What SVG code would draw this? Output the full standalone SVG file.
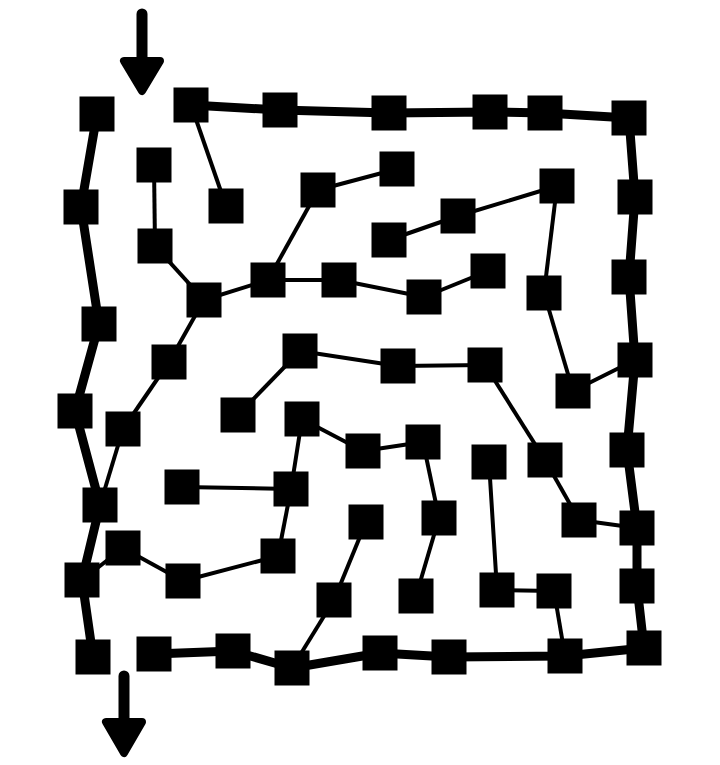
<svg xmlns="http://www.w3.org/2000/svg" width="720" height="765" viewBox="0 0 720 765">
<style>
.n{fill:#000}
.thick{stroke:#000;stroke-width:9;fill:none;stroke-linejoin:round}
.thin{stroke:#000;stroke-width:4;fill:none}
.arr{stroke:#000;stroke-width:11;stroke-linecap:round;fill:none}
.head{fill:#000;stroke:#000;stroke-width:8;stroke-linejoin:round}
</style>
<defs>
<rect id="sq" x="-17.5" y="-17.5" width="35" height="35"/>
</defs>
<g id="connectors">
<polyline class="thick" points="97,114 81,207 99,324 75,411 100,505 82,580 93,657"/>
<polyline class="thick" points="154,654 233,651 292,668 380,653 449,657 565,656 644,648"/>
<polyline class="thick" points="191,105 280,110 389,113 490,112 545,113 629,118 635,197 629,277 635,360 627,450 637,528 637,586 644,648"/>
<line class="thin" x1="154" y1="165" x2="155" y2="246"/>
<line class="thin" x1="191" y1="105" x2="226" y2="206"/>
<line class="thin" x1="318" y1="190" x2="397" y2="169"/>
<line class="thin" x1="318" y1="190" x2="268" y2="280"/>
<line class="thin" x1="389" y1="240" x2="458" y2="216"/>
<line class="thin" x1="458" y1="216" x2="557" y2="186"/>
<line class="thin" x1="557" y1="186" x2="544" y2="293"/>
<line class="thin" x1="544" y1="293" x2="573" y2="391"/>
<line class="thin" x1="573" y1="391" x2="635" y2="360"/>
<line class="thin" x1="155" y1="246" x2="204" y2="300"/>
<line class="thin" x1="204" y1="300" x2="268" y2="280"/>
<line class="thin" x1="268" y1="280" x2="339" y2="280"/>
<line class="thin" x1="339" y1="280" x2="424" y2="297"/>
<line class="thin" x1="424" y1="297" x2="488" y2="271"/>
<line class="thin" x1="204" y1="300" x2="169" y2="362"/>
<line class="thin" x1="169" y1="362" x2="123" y2="429"/>
<line class="thin" x1="123" y1="429" x2="100" y2="505"/>
<line class="thin" x1="300" y1="351" x2="238" y2="415"/>
<line class="thin" x1="300" y1="351" x2="398" y2="366"/>
<line class="thin" x1="398" y1="366" x2="485" y2="365"/>
<line class="thin" x1="485" y1="365" x2="545" y2="460"/>
<line class="thin" x1="545" y1="460" x2="579" y2="520"/>
<line class="thin" x1="579" y1="520" x2="637" y2="528"/>
<line class="thin" x1="302" y1="419" x2="363" y2="451"/>
<line class="thin" x1="363" y1="451" x2="423" y2="442"/>
<line class="thin" x1="423" y1="442" x2="439" y2="518"/>
<line class="thin" x1="439" y1="518" x2="416" y2="596"/>
<line class="thin" x1="302" y1="419" x2="291" y2="489"/>
<line class="thin" x1="182" y1="487" x2="291" y2="489"/>
<line class="thin" x1="291" y1="489" x2="278" y2="556"/>
<line class="thin" x1="278" y1="556" x2="183" y2="581"/>
<line class="thin" x1="183" y1="581" x2="123" y2="548"/>
<line class="thin" x1="123" y1="548" x2="82" y2="580"/>
<line class="thin" x1="489" y1="462" x2="497" y2="590"/>
<line class="thin" x1="497" y1="590" x2="554" y2="591"/>
<line class="thin" x1="554" y1="591" x2="565" y2="656"/>
<line class="thin" x1="366" y1="522" x2="334" y2="600"/>
<line class="thin" x1="334" y1="600" x2="292" y2="668"/>
</g>
<g id="arrow-in">
<line class="arr" x1="142" y1="14" x2="142" y2="62"/>
<polygon class="head" points="124,61 160,61 142,91"/>
</g>
<g id="arrow-out">
<line class="arr" x1="124" y1="676" x2="124" y2="724"/>
<polygon class="head" points="106,722 142,722 124,753"/>
</g>
<g id="n-a1"><use href="#sq" x="97" y="114"/></g>
<g id="n-l1"><use href="#sq" x="81" y="207"/></g>
<g id="n-l2"><use href="#sq" x="99" y="324"/></g>
<g id="n-l3"><use href="#sq" x="75" y="411"/></g>
<g id="n-l4"><use href="#sq" x="100" y="505"/></g>
<g id="n-l5"><use href="#sq" x="82" y="580"/></g>
<g id="n-l6"><use href="#sq" x="93" y="657"/></g>
<g id="n-t1"><use href="#sq" x="191" y="105"/></g>
<g id="n-t2"><use href="#sq" x="280" y="110"/></g>
<g id="n-t3"><use href="#sq" x="389" y="113"/></g>
<g id="n-t4"><use href="#sq" x="490" y="112"/></g>
<g id="n-t5"><use href="#sq" x="545" y="113"/></g>
<g id="n-t6"><use href="#sq" x="629" y="118"/></g>
<g id="n-r1"><use href="#sq" x="635" y="197"/></g>
<g id="n-r2"><use href="#sq" x="629" y="277"/></g>
<g id="n-r3"><use href="#sq" x="635" y="360"/></g>
<g id="n-r4"><use href="#sq" x="627" y="450"/></g>
<g id="n-r5"><use href="#sq" x="637" y="528"/></g>
<g id="n-r6"><use href="#sq" x="637" y="586"/></g>
<g id="n-r7"><use href="#sq" x="644" y="648"/></g>
<g id="n-b1"><use href="#sq" x="154" y="654"/></g>
<g id="n-b2"><use href="#sq" x="233" y="651"/></g>
<g id="n-b3"><use href="#sq" x="292" y="668"/></g>
<g id="n-b4"><use href="#sq" x="380" y="653"/></g>
<g id="n-b5"><use href="#sq" x="449" y="657"/></g>
<g id="n-b6"><use href="#sq" x="565" y="656"/></g>
<g id="n-1"><use href="#sq" x="154" y="165"/></g>
<g id="n-2"><use href="#sq" x="155" y="246"/></g>
<g id="n-3"><use href="#sq" x="226" y="206"/></g>
<g id="n-4"><use href="#sq" x="318" y="190"/></g>
<g id="n-5"><use href="#sq" x="397" y="169"/></g>
<g id="n-6"><use href="#sq" x="557" y="186"/></g>
<g id="n-7"><use href="#sq" x="458" y="216"/></g>
<g id="n-8"><use href="#sq" x="389" y="240"/></g>
<g id="n-9"><use href="#sq" x="488" y="271"/></g>
<g id="n-10"><use href="#sq" x="424" y="297"/></g>
<g id="n-11"><use href="#sq" x="544" y="293"/></g>
<g id="n-12"><use href="#sq" x="204" y="300"/></g>
<g id="n-13"><use href="#sq" x="268" y="280"/></g>
<g id="n-14"><use href="#sq" x="339" y="280"/></g>
<g id="n-15"><use href="#sq" x="169" y="362"/></g>
<g id="n-16"><use href="#sq" x="123" y="429"/></g>
<g id="n-17"><use href="#sq" x="300" y="351"/></g>
<g id="n-18"><use href="#sq" x="238" y="415"/></g>
<g id="n-19"><use href="#sq" x="398" y="366"/></g>
<g id="n-20"><use href="#sq" x="485" y="365"/></g>
<g id="n-21"><use href="#sq" x="573" y="391"/></g>
<g id="n-22"><use href="#sq" x="302" y="419"/></g>
<g id="n-23"><use href="#sq" x="363" y="451"/></g>
<g id="n-24"><use href="#sq" x="423" y="442"/></g>
<g id="n-25"><use href="#sq" x="489" y="462"/></g>
<g id="n-26"><use href="#sq" x="545" y="460"/></g>
<g id="n-27"><use href="#sq" x="579" y="520"/></g>
<g id="n-28"><use href="#sq" x="182" y="487"/></g>
<g id="n-29"><use href="#sq" x="291" y="489"/></g>
<g id="n-30"><use href="#sq" x="366" y="522"/></g>
<g id="n-31"><use href="#sq" x="439" y="518"/></g>
<g id="n-32"><use href="#sq" x="123" y="548"/></g>
<g id="n-33"><use href="#sq" x="183" y="581"/></g>
<g id="n-34"><use href="#sq" x="278" y="556"/></g>
<g id="n-35"><use href="#sq" x="334" y="600"/></g>
<g id="n-36"><use href="#sq" x="416" y="596"/></g>
<g id="n-37"><use href="#sq" x="497" y="590"/></g>
<g id="n-38"><use href="#sq" x="554" y="591"/></g>
</svg>
